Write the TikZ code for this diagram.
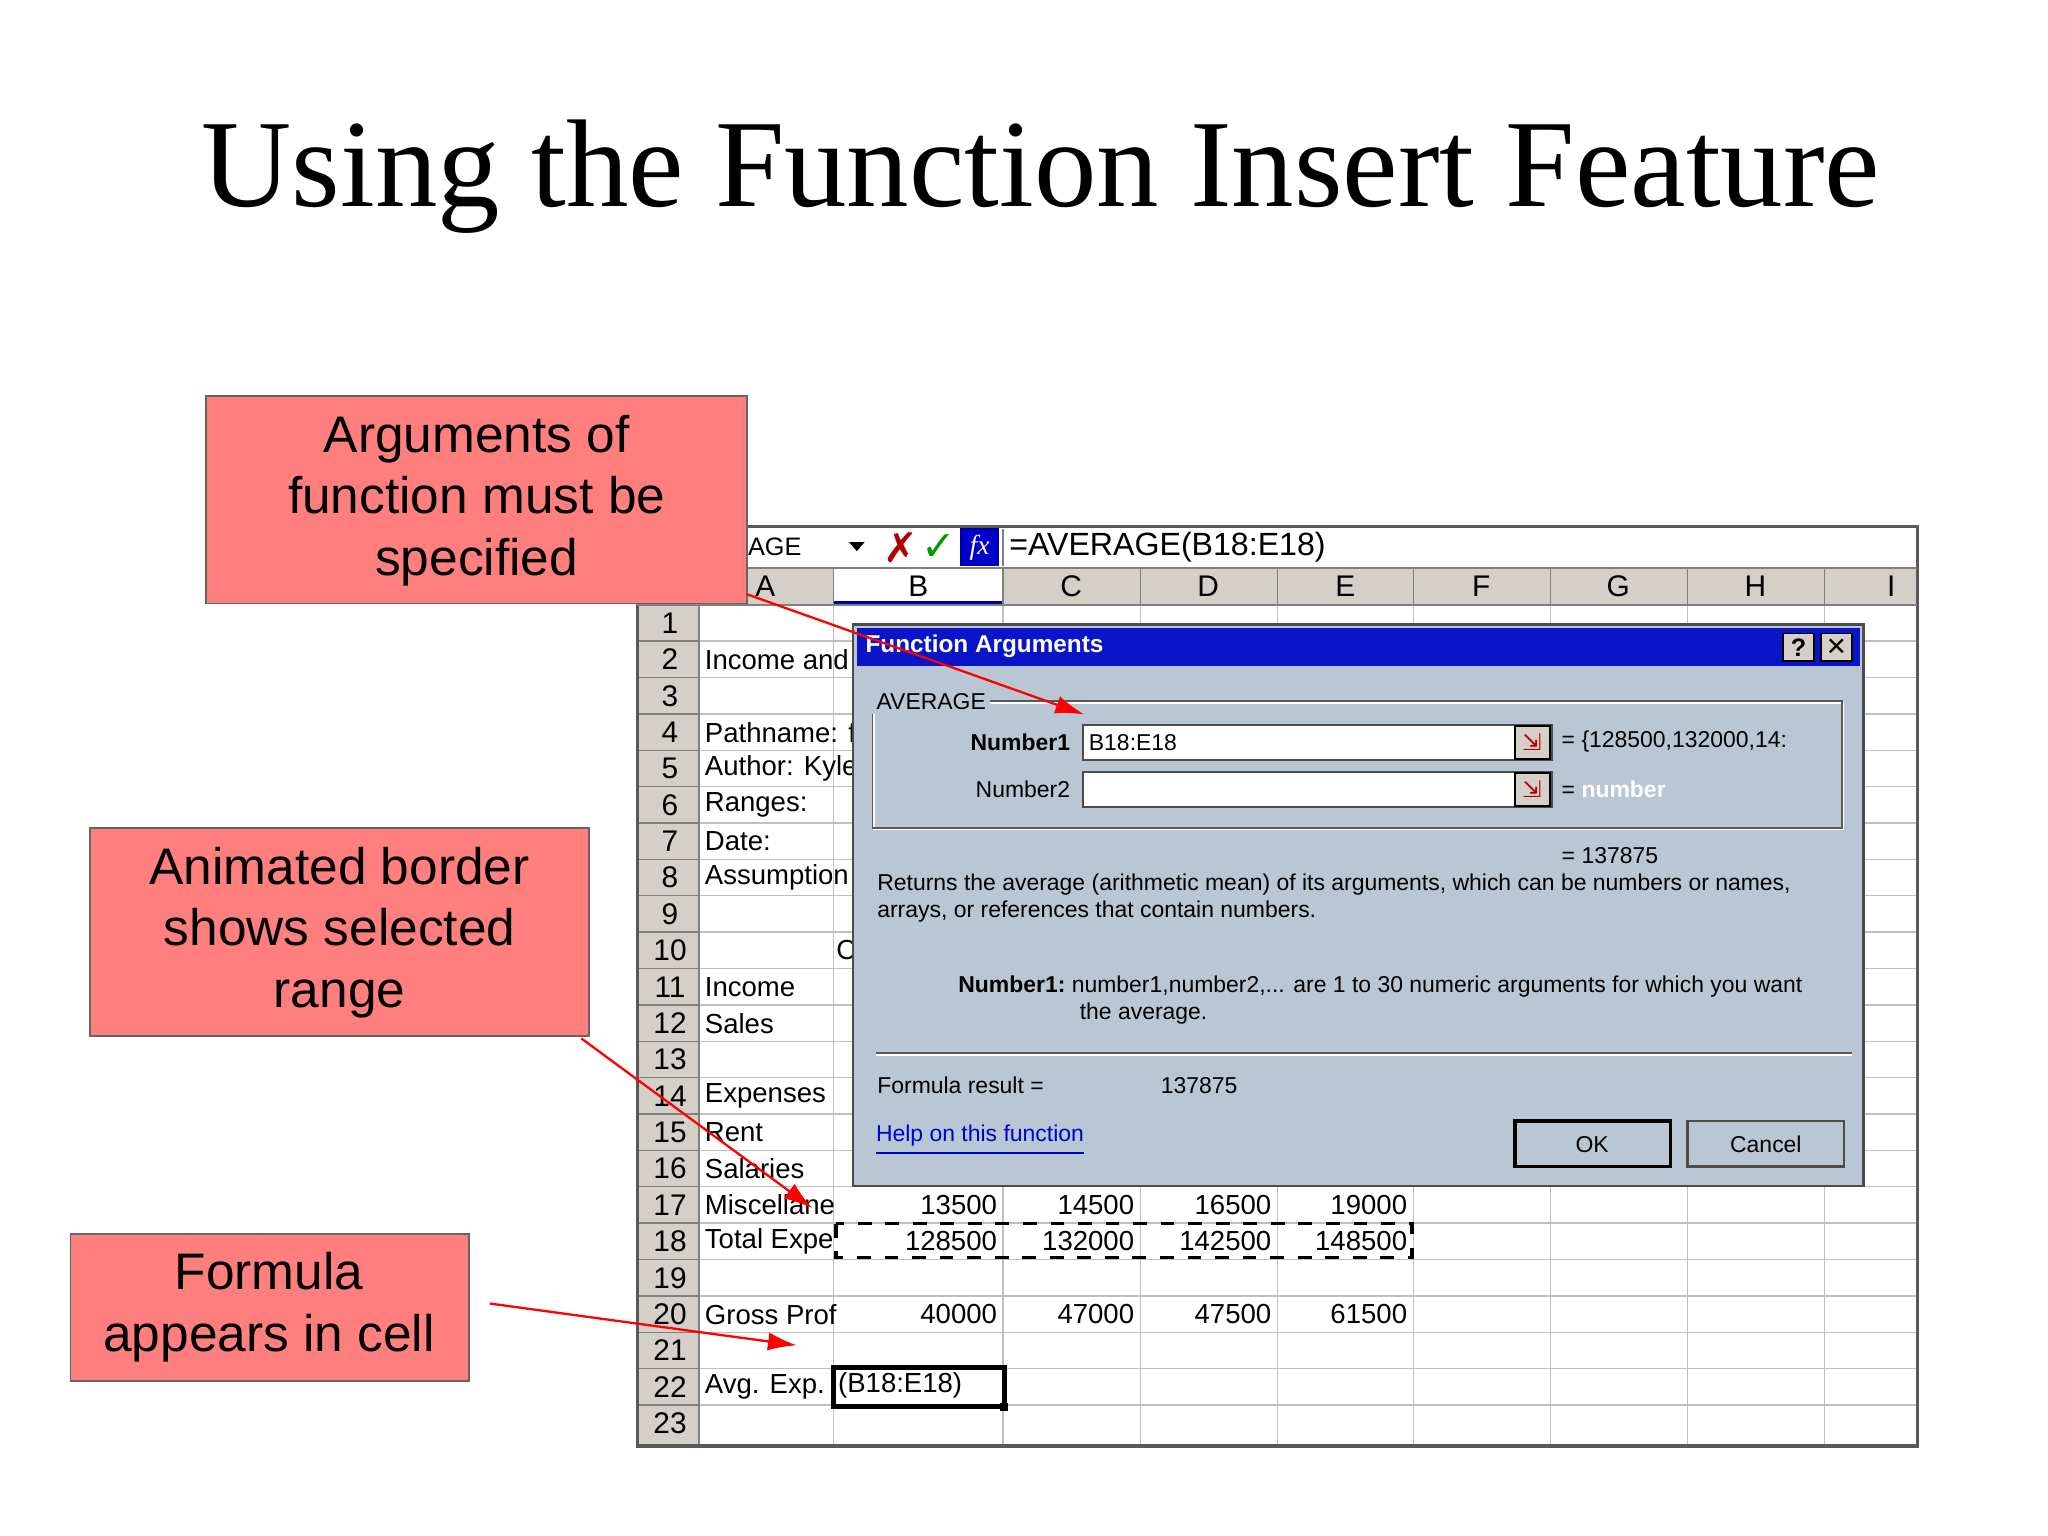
\documentclass[tikz,border=0pt]{standalone}
\usepackage{fontspec}
\usetikzlibrary{arrows.meta}
\setmainfont{Liberation Serif}
\setsansfont{Liberation Sans}
\newfontfamily\djv{DejaVu Sans}
\definecolor{callfill}{HTML}{FF7F7F}
\definecolor{dlg}{HTML}{B9C7D5}
\definecolor{hdr}{HTML}{D4D0C8}
\definecolor{gridc}{HTML}{C0C0C0}
\definecolor{ttl}{HTML}{0A14C8}
\begin{document}
\begin{tikzpicture}[x=0.1mm,y=-0.1mm,
  callout/.style={align=center,font=\sffamily\fontsize{11.2}{13.4}\selectfont},
  cell/.style={font=\sffamily\fontsize{6}{7}\selectfont,inner sep=0pt},
  dtext/.style={font=\sffamily\fontsize{5}{6}\selectfont,inner sep=0pt},
  redarrow/.style={red,line width=0.5pt,-{Latex[length=2.2mm,width=1.4mm]}},
  field/.style={draw=gray!60!black,fill=white,line width=0.4pt}]
\useasboundingbox (0,0) rectangle (1568,1176);
% title
\node[font=\fontsize{27.2}{30}\selectfont,inner sep=0pt] (title) at (797,135) {Using the Function Insert Feature};
% spreadsheet base
\fill[white] (488,403) rectangle (1468,1107);
\fill[hdr] (488,435) rectangle (1468,463);
\fill[hdr] (488,463) rectangle (535,1107);
\fill[white] (638,436) rectangle (768,462);
\draw[blue!70!black,line width=1pt] (638,462) -- (768,462);
% grid
\foreach \n in {1,...,23}{
  \pgfmathsetmacro\yt{463+(\n-1)*27.85}
  \draw[gridc,line width=0.3pt] (535,\yt) -- (1468,\yt);
  \draw[gray,line width=0.3pt] (488,\yt) -- (535,\yt);
  \node[cell,font=\sffamily\fontsize{6.5}{7}\selectfont] (r\n) at (513,\yt+14) {\n};
}
\foreach \x in {638,768,873,978,1082,1187,1292,1397}{
  \draw[gridc,line width=0.3pt] (\x,463) -- (\x,1107);
  \draw[gray,line width=0.3pt] (\x,435) -- (\x,463);
}
\draw[gray,line width=0.4pt] (535,435) -- (535,1107);
\foreach \c/\x in {A/586,B/703,C/820,D/925,E/1030,F/1134,G/1239,H/1344,I/1448}
  \node[cell,font=\sffamily\fontsize{6.5}{7}\selectfont] (c\c) at (\x,449) {\c};
\draw[gray!70!black,line width=0.8pt] (488,403) rectangle (1468,1107);
\draw[gray,line width=0.4pt] (488,435) -- (1468,435) (488,463) -- (1468,463);
% formula bar
\node[cell,anchor=west,font=\sffamily\fontsize{5.5}{6}\selectfont] (namebox) at (572,419) {AGE};
\fill (650,415) -- (662,415) -- (656,422) -- cycle;
\node[cell,text=red!70!black,font=\djv\bfseries\fontsize{9}{9}\selectfont] (xmark) at (690,419) {✗};
\node[cell,text=green!60!black,font=\djv\bfseries\fontsize{9}{9}\selectfont] (cmark) at (719,419) {✓};
\draw[blue!60!black,fill=blue!80!black] (736,405) rectangle (764,433);
\node[cell,text=white,font=\itshape\fontsize{6}{6}\selectfont] (fx) at (750,419) {fx};
\draw[gray] (768,405) -- (768,433);
\node[cell,anchor=west,font=\sffamily\fontsize{7}{8}\selectfont] (formula) at (772,419) {=AVERAGE(B18:E18)};
% column A texts
\foreach \n/\t in {2/Income and,4/Pathname: f,5/Author: Kyle,6/Ranges:,7/Date:,8/Assumption,11/Income,12/Sales,14/Expenses,15/Rent,16/Salaries,17/Miscellane,18/Total Expe,20/Gross Prof,22/Avg. Exp.}{
  \pgfmathsetmacro\yt{463+(\n-1)*27.85+14}
  \node[cell,anchor=west] (a\n) at (539,\yt) {\t};
}
\node[cell] (c10) at (648,727) {C};
% numbers
\foreach \n/\b/\c/\d/\e in {17/13500/14500/16500/19000,18/128500/132000/142500/148500,20/40000/47000/47500/61500}{
  \pgfmathsetmacro\yt{463+(\n-1)*27.85+14}
  \node[cell,anchor=east] (b\n) at (764,\yt) {\b};
  \node[cell,anchor=east] (cc\n) at (869,\yt) {\c};
  \node[cell,anchor=east] (d\n) at (974,\yt) {\d};
  \node[cell,anchor=east] (e\n) at (1078,\yt) {\e};
}
\draw[black,dashed,line width=0.7pt] (640,937) rectangle (1081,963);
% selected cell
\fill[white] (638,1048) rectangle (768,1076);
\draw[black,line width=1.2pt] (638,1047) rectangle (769,1077);
\fill (766,1074) rectangle (772,1080);
\node[cell,anchor=west] (b22) at (641,1061) {(B18:E18)};
% dialog
\fill[dlg] (653,478) rectangle (1427,908);
\draw[gray!60!black,line width=0.6pt] (653,478) rectangle (1427,908);
\fill[ttl] (656,481) rectangle (1424,510);
\node[dtext,anchor=west,text=white,font=\sffamily\bfseries\fontsize{5.3}{6}\selectfont] (dtitle) at (662,495) {Function Arguments};
\draw[fill=hdr] (1365,485) rectangle (1389,506);
\node[dtext,font=\sffamily\bfseries\fontsize{5.5}{6}\selectfont] (qbtn) at (1377,495.5) {?};
\draw[fill=hdr] (1394,485) rectangle (1418,506);
\node[dtext,font=\djv\bfseries\fontsize{5.5}{6}\selectfont] (xbtn) at (1406,495.5) {✕};
% group box
\draw[white,line width=0.4pt] (669,538) rectangle (1411,635);
\draw[gray!70!black,line width=0.4pt] (668,537) rectangle (1410,634);
\node[dtext,fill=dlg,inner sep=1pt] (avg) at (713,537) {AVERAGE};
\node[dtext,anchor=east,font=\sffamily\bfseries\fontsize{5}{6}\selectfont] (n1) at (820,568) {Number1};
\draw[field] (829,555) rectangle (1188,582);
\node[dtext,anchor=west] (n1v) at (833,568.5) {B18:E18};
\draw[fill=hdr] (1160,556) rectangle (1187,581);
\node[dtext,font=\djv\fontsize{5}{6}\selectfont,text=red!70!black] (ic1) at (1173,568.5) {⇲};
\node[dtext,anchor=west] (n1r) at (1195,568) {= \{128500,132000,14:};
\node[dtext,anchor=east] (n2) at (820,604) {Number2};
\draw[field] (829,591) rectangle (1188,618);
\draw[fill=hdr] (1160,592) rectangle (1187,617);
\node[dtext,font=\djv\fontsize{5}{6}\selectfont,text=red!70!black] (ic2) at (1173,604.5) {⇲};
\node[dtext,anchor=west] (n2r) at (1195,604) {= \textcolor{white}{\bfseries number}};
\node[dtext,anchor=west] (res) at (1195,655) {= 137875};
\node[dtext,anchor=west] (desc1) at (671,677) {Returns the average (arithmetic mean) of its arguments, which can be numbers or names,};
\node[dtext,anchor=west] (desc2) at (671,698) {arrays, or references that contain numbers.};
\node[dtext,anchor=west] (h1) at (733,755) {\bfseries Number1:\mdseries\ number1,number2,... are 1 to 30 numeric arguments for which you want};
\node[dtext,anchor=west] (h2) at (826,776) {the average.};
\draw[gray!70!black,line width=0.4pt] (671,806) -- (1418,806);
\draw[white,line width=0.4pt] (671,807.5) -- (1418,807.5);
\node[dtext,anchor=west] (fr) at (671,831) {Formula result =};
\node[dtext,anchor=west] (frv) at (888,831) {137875};
\node[dtext,anchor=west,text=blue!80!black] (help) at (670,873) {\underline{Help on this function}};
\draw[black,line width=0.8pt,fill=dlg] (1160,858) rectangle (1279,893);
\node[dtext] (ok) at (1219,876) {OK};
\draw[black!70,line width=0.5pt,fill=dlg] (1292,858) rectangle (1412,893);
\node[dtext] (cancel) at (1352,876) {Cancel};
% callouts
\draw[gray!80!black,fill=callfill] (158,303) rectangle (572,462);
\node[callout] (t1) at (365,383) {Arguments of\\function must be\\specified};
\draw[gray!80!black,fill=callfill] (69,634) rectangle (451,793);
\node[callout] (t2) at (260,714) {Animated border\\shows selected\\range};
\draw[gray!80!black,fill=callfill] (54,945) rectangle (359,1057);
\node[callout] (t3) at (206,1001) {Formula\\appears in cell};
% arrows
\coordinate (p1) at (572,455); \coordinate (q1) at (830,547);
\coordinate (p2) at (445,795); \coordinate (q2) at (622,925);
\coordinate (p3) at (375,998); \coordinate (q3) at (610,1030);
\draw[redarrow] (p1) -- (q1);
\draw[redarrow] (p2) -- (q2);
\draw[redarrow] (p3) -- (q3);
\end{tikzpicture}
\end{document}
